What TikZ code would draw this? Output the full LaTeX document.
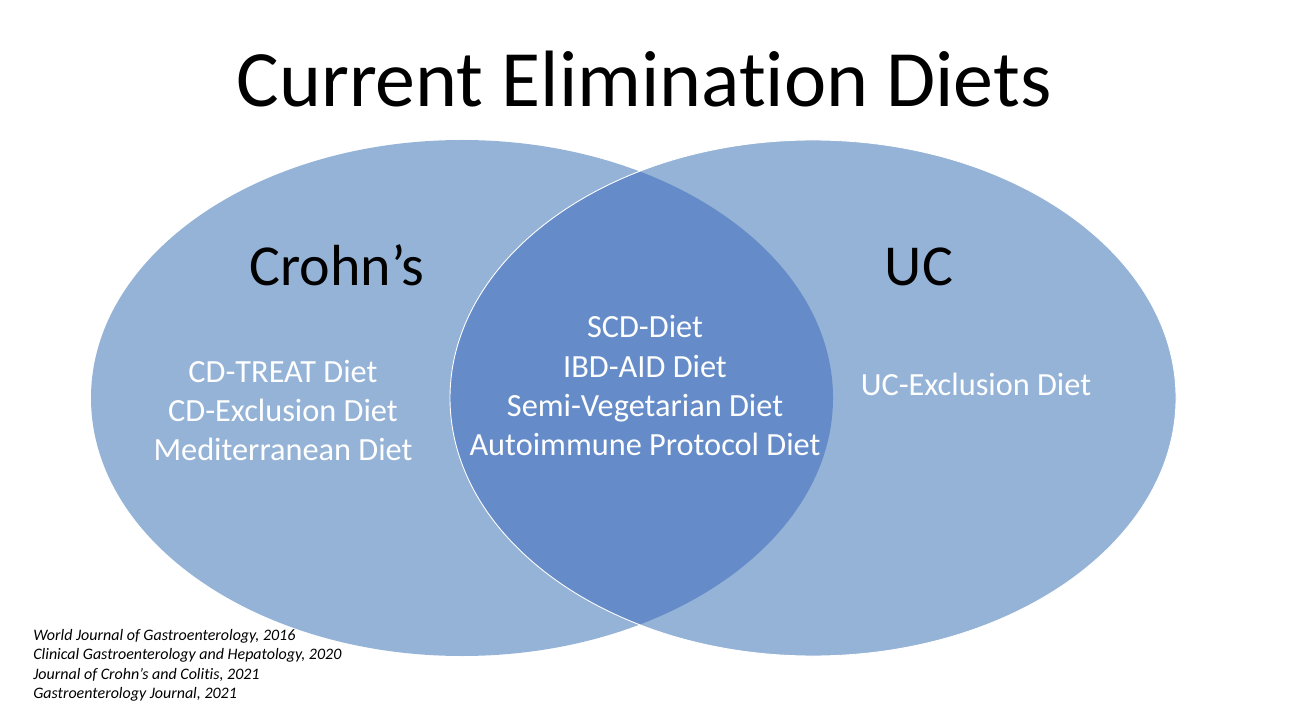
\documentclass[tikz,border=0pt]{standalone}
\usepackage{fontspec}
\setmainfont{Carlito}[Ligatures=NoCommon]
\usepackage{xcolor}
\usetikzlibrary{positioning}
\definecolor{setblue}{HTML}{95B3D7}
\definecolor{lensblue}{HTML}{658CC8}
\tikzset{
    setfill/.style={fill=setblue},
    lensfill/.style={fill=lensblue},
    heading/.style={inner sep=0pt, anchor=base, font=\fontsize{45.5}{54}\selectfont},
    setlabel/.style={inner sep=0pt, anchor=base, font=\fontsize{33}{39}\selectfont},
    dietlist/.style={inner sep=0pt, align=center, text=white, font=\fontsize{18.4}{22.36}\selectfont},
    refs/.style={inner sep=0pt, align=left, font=\fontsize{9.1}{11.1}\selectfont\itshape},
}

\begin{document}
\begin{tikzpicture}[x=0.02cm, y=-0.02cm]
    \useasboundingbox (0,0) rectangle (1290,722);
    \fill[setfill] (462,398) ellipse [x radius=371, y radius=258];
    \fill[setfill] (813,398) ellipse [x radius=363, y radius=258];
    \begin{scope}
        \clip (462,398) ellipse [x radius=371, y radius=258];
        \fill[lensfill] (813,398) ellipse [x radius=363, y radius=258];
    \end{scope}
    \draw[white, line width=0.5pt] (813,398) ellipse [x radius=363, y radius=258];
    \node[heading] (title) at (644,107) {Current Elimination Diets};
    \node[setlabel] (crohns) at (337,286) {Crohn’s};
    \node[setlabel] (uc) at (919,286) {UC};
    \node[dietlist] (cdlist) at (283,410.7) {CD-TREAT Diet\\CD-Exclusion Diet\\Mediterranean Diet};
    \node[dietlist] (bothlist) at (645,385.7) {SCD-Diet\\IBD-AID Diet\\Semi-Vegetarian Diet\\Autoimmune Protocol Diet};
    \node[dietlist, anchor=base] (uclist) at (976,396) {UC-Exclusion Diet};
    \node[refs, anchor=west] (sources) at (33,665.5) {World Journal of Gastroenterology, 2016\\Clinical Gastroenterology and Hepatology, 2020\\Journal of Crohn’s and Colitis, 2021\\Gastroenterology Journal, 2021};
\end{tikzpicture}
\end{document}
